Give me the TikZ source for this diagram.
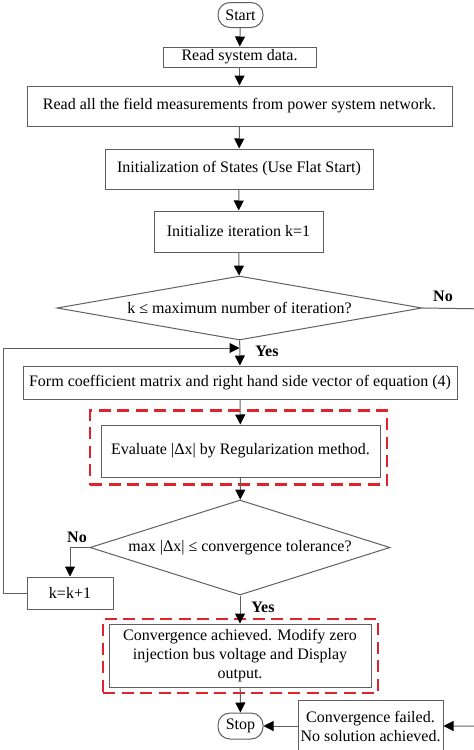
\documentclass[tikz,border=0pt]{standalone}
\usepackage{fontspec}
\setmainfont{Liberation Serif}
\usepackage{tikz}
\usetikzlibrary{shapes, shapes.geometric, arrows.meta, positioning, calc}
\definecolor{flowgray}{RGB}{95, 95, 95}
\definecolor{markred}{RGB}{222, 35, 45}

\begin{document}
\begin{tikzpicture}[x=1pt, y=-1pt,
  pbox/.style={draw=flowgray, line width=1pt, inner sep=0pt, align=center, font=\fontsize{16}{19}\selectfont},
  term/.style={pbox, rounded corners=12pt, minimum width=45pt, minimum height=25pt},
  dbox/.style={draw=flowgray, line width=1pt, diamond, inner sep=0pt, font=\fontsize{16}{19}\selectfont},
  redframe/.style={draw=markred, line width=2.4pt, dash pattern=on 12pt off 6.5pt, inner sep=0pt},
  flow/.style={draw=flowgray, line width=1pt, -{Triangle[length=10pt, width=10pt, color=black]}},
  tag/.style={font=\fontsize{16}{19}\selectfont\bfseries}
]
  \useasboundingbox (0,0) rectangle (474,750);
  % main column
  \node[term] (start) at (240.5, 15) {Start};
  \node[pbox, minimum width=153pt, minimum height=20pt] (read) at (239.5, 57) {Read system data.};
  \node[pbox, minimum width=425pt, minimum height=40pt] (readall) at (239.5, 106) {Read all the field measurements from power system network.};
  \node[pbox, minimum width=268pt, minimum height=40pt] (init) at (239, 169) {Initialization of States (Use Flat Start)};
  \node[pbox, minimum width=169pt, minimum height=41pt] (iter) at (238.5, 231.5) {Initialize iteration k=1};
  \node[dbox, aspect=5.7, minimum width=365pt, minimum height=64pt] (maxit) at (239.5, 308) {k ≤ maximum number of iteration?};
  \node[pbox, minimum width=434pt, minimum height=33pt] (form) at (240, 382.5) {Form coefficient matrix and right hand side vector of equation (4)};
  \node[redframe, minimum width=297pt, minimum height=74pt] (regframe) at (238.5, 447.5) {};
  \node[pbox, minimum width=279pt, minimum height=52pt] (eval) at (240.5, 451) {Evaluate |Δx| by Regularization method.};
  \node[dbox, aspect=3.16, minimum width=300pt, minimum height=95pt] (tol) at (240, 547.5) {max |Δx| ≤ convergence tolerance?};
  \node[pbox, minimum width=86pt, minimum height=32pt] (kinc) at (70, 593) {k=k+1};
  \node[redframe, minimum width=275pt, minimum height=74pt] (outframe) at (240.5, 656) {};
  \node[pbox, minimum width=262pt, minimum height=63pt] (conv) at (240, 655.5) {Convergence achieved. Modify zero\\injection bus voltage and Display\\output.};
  \node[term, minimum height=26pt] (stop) at (240.5, 726) {Stop};
  \node[pbox, minimum width=145pt, minimum height=52pt] (fail) at (370.5, 726) {Convergence failed.\\No solution achieved.};

  % labels
  \node[tag] (nomax) at (443, 296) {No};
  \node[tag] (yesmax) at (267, 351) {Yes};
  \node[tag] (notol) at (77, 537) {No};
  \node[tag] (yestol) at (263, 607) {Yes};

  \coordinate (merge) at (239.5, 348);
  \coordinate (loopcorner) at (3, 348);
  \coordinate (offright) at (490, 309);

  % connectors
  \draw[flow] (start) -- (read);
  \draw[flow] (read) -- (readall);
  \draw[flow] (readall) -- (init);
  \draw[flow] (init) -- (iter);
  \draw[flow] (iter) -- (maxit);
  \draw[flow] (maxit) -- (form);
  \draw[flow] (form) -- (eval);
  \draw[flow] (eval) -- (tol);
  \draw[flow] (tol.west) -| (kinc.north);
  \draw[flow] (kinc.west) -| (loopcorner) -- (merge);
  \draw[flow] (tol) -- (conv);
  \draw[flow] (conv) -- (stop);
  \draw[flow] (fail) -- (stop);
  \draw[flow] (maxit.east) -- (offright) |- (fail.east);
\end{tikzpicture}
\end{document}
